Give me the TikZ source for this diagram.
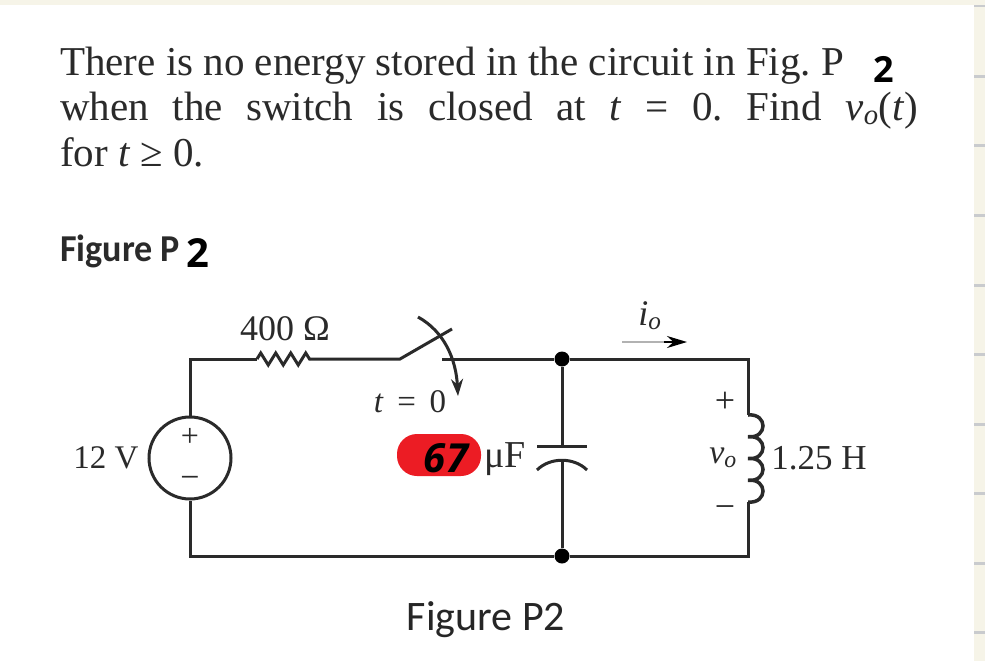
\documentclass[tikz,border=0pt]{standalone}
\usepackage{fontspec}
\setmainfont{Liberation Serif}
\newfontfamily\capfont{Carlito}
\newfontfamily\handfont{Open Sans}
\usetikzlibrary{decorations.pathmorphing,arrows.meta}
\definecolor{cream}{HTML}{F6F4E8}
\definecolor{tickgray}{HTML}{C9CBCE}
\definecolor{markred}{HTML}{EC1C24}
\definecolor{inkgray}{HTML}{2A2A2A}
\tikzset{
	wire/.style={line width=3pt,draw=inkgray},
	lbl/.style={inner sep=0pt,text=inkgray},
	para/.style={lbl,anchor=base west,font=\fontsize{41}{41}\selectfont},
	hand/.style={inner sep=0pt,font=\handfont\bfseries\fontsize{40}{40}\selectfont},
	strip/.style={fill=cream,draw=none},
	junction/.style={circle,fill=black,minimum size=15pt,inner sep=0pt}
}
\frenchspacing
\begin{document}
\begin{tikzpicture}[x=1pt,y=-1pt]
	\useasboundingbox (0,0) rectangle (985,661);
	\fill[strip] (0,0) rectangle (985,661);
	\fill[white] (0,5) rectangle (974,661);
	\foreach \y in {6,76,145,215,285,354,424,493,563,632}
		\fill[tickgray] (974,\y-1) rectangle (985,\y+1.5);

	% question text
	\node[para](lineA)at(60,75){There is no energy stored in the circuit in Fig. P};
	\node[para](lineB)at(60,120){\makebox[858pt][s]{when the switch is closed at \textit{t} = 0. Find \textit{v}\textsubscript{\textit{o}}(\textit{t})}};
	\node[para](lineC)at(60,166){for \textit{t} ≥ 0.};
	\node[hand,font=\handfont\bfseries\fontsize{36}{36}\selectfont](numA)at(884,69){2};
	\node[lbl,anchor=base west,font=\capfont\bfseries\fontsize{38}{38}\selectfont](figA)at(60,261){\scalebox{0.95}[1]{Figure P}};
	\node[hand](numB)at(198,253){2};

	% circuit nodes
	\draw
	node[circle,draw=inkgray,line width=3pt,minimum size=82pt,inner sep=0pt](src)at(190,458){}
	coordinate(TL)at(190,359)
	coordinate(BL)at(190,556)
	coordinate(R1)at(257,359)
	coordinate(R2)at(310,359)
	coordinate(SW1)at(400,359)
	coordinate(SW2)at(452,329)
	coordinate(SW3)at(442,359)
	coordinate(AR1)at(418,317)
	coordinate(AR2)at(458,396)
	node[junction](top)at(562,359){}
	node[junction](bot)at(562,556){}
	coordinate(C1)at(562,446)
	coordinate(C2)at(562,461)
	coordinate(CP1)at(537,446)
	coordinate(CP2)at(587,446)
	coordinate(CQ1)at(537,470)
	coordinate(CQ2)at(587,470)
	coordinate(TR)at(748,359)
	coordinate(BR)at(748,556)
	coordinate(L1)at(748,415)
	coordinate(L2)at(748,502)
	coordinate(IA)at(622,342)
	coordinate(IM)at(664,342)
	coordinate(IB)at(687,342);

	% wires
	\draw[wire](src)--(TL)--(R1);
	\draw[wire,decorate,decoration={zigzag,amplitude=6pt,segment length=15pt}](R1)--(R2);
	\draw[wire](R2)--(SW1)--(SW2);
	\draw[wire](SW3)--(top)--(TR)--(L1);
	\draw[wire,-{Stealth[length=17pt,width=12pt]}](AR1) .. controls (445,332) and (456,360) .. (AR2);
	\draw[wire](top)--(C1);
	\draw[wire](CP1)--(CP2);
	\draw[wire](CQ1) .. controls (550,457) and (574,457) .. (CQ2);
	\draw[wire](C2)--(bot);
	\draw[wire](src)--(BL)--(bot)--(BR)--(L2);
	\draw[wire,line width=3.5pt](L1) \foreach \i in {1,...,4}{ .. controls +(20,-2) and +(20,2) .. ++(0,21.75)};
	\draw[draw=gray!60,line width=2pt](IA)--(IM);
	\draw[-{Stealth[length=20pt,width=12pt]},draw=black,line width=2pt](IM)--(IB);

	% source signs and labels
	\node[lbl,font=\fontsize{32}{32}\selectfont](plusS)at(190,437){+};
	\node[lbl,font=\fontsize{34}{34}\selectfont](minusS)at(190,482){−};
	\node[lbl,font=\fontsize{33}{33}\selectfont](vs)at(106,458){12 V};
	\node[lbl,font=\fontsize{36}{36}\selectfont](res)at(285,329){400 Ω};
	\node[lbl,font=\fontsize{33}{33}\selectfont](tz)at(410,402){\textit{t}\, = \,0};
	\fill[markred,rounded corners=20pt](397,434) rectangle (481,476);
	\node[hand,font=\handfont\itshape\bfseries\fontsize{40}{40}\selectfont](cval)at(446,458){67};
	\node[lbl,font=\fontsize{38}{38}\selectfont](cap)at(505,459){μF};
	\node[lbl,font=\fontsize{36}{36}\selectfont](plusL)at(725,402){+};
	\node[lbl,font=\fontsize{34}{34}\selectfont](vo)at(723,458){\textit{v}\textsubscript{\textit{o}}};
	\node[lbl,font=\fontsize{36}{36}\selectfont](minusL)at(725,512){−};
	\node[lbl,font=\fontsize{35}{35}\selectfont](ind)at(819,458){1.25 H};
	\node[lbl,font=\fontsize{36}{36}\selectfont](io)at(650,316){\textit{i}\textsubscript{\textit{o}}};
	\node[anchor=center,inner sep=0pt,text=black!85,font=\capfont\fontsize{42}{42}\selectfont](figB)at(486,620){Figure P2};
\end{tikzpicture}
\end{document}
